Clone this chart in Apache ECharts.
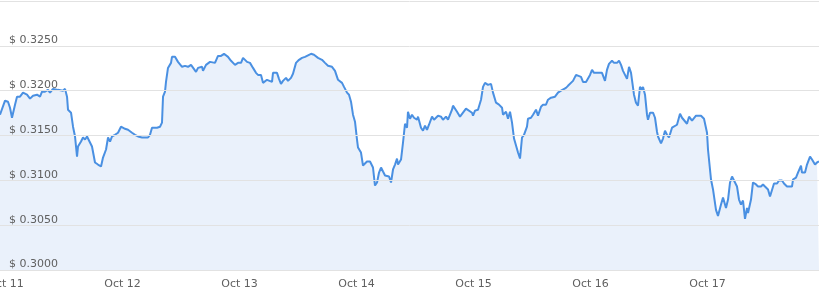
<!DOCTYPE html>
<html>
<head>
<meta charset="utf-8">
<script src="https://cdn.jsdelivr.net/npm/echarts@6/dist/echarts.min.js"></script>
<style>
html,body{margin:0;padding:0;background:#fff;}
#chart{width:819px;height:305px;}
</style>
</head>
<body>
<div id="chart"></div>
<script>
// hours since Oct 11 00:00
const hours = [
-1.13,-0.10,0.51,0.92,1.33,1.95,2.36,2.97,3.59,4.41,
5.03,5.64,6.46,7.08,7.49,8.10,8.72,9.13,9.74,10.77,
11.79,12.21,12.62,12.82,13.44,13.85,14.26,14.67,14.87,15.49,
15.90,16.31,16.72,17.13,17.74,17.95,18.36,18.97,19.59,20.00,
20.21,20.62,21.03,21.44,21.85,22.46,23.08,23.69,24.51,25.13,
25.95,26.56,27.18,27.59,28.00,28.62,29.23,29.64,30.05,30.46,
31.08,31.69,32.10,32.31,32.72,32.92,33.33,33.95,34.15,34.77,
35.38,35.79,36.21,36.82,37.44,38.05,38.46,39.08,39.49,40.31,
40.51,41.13,41.54,41.95,42.36,42.97,43.59,44.21,44.82,45.64,
46.26,47.08,47.69,48.31,48.72,49.54,50.15,50.77,51.38,51.79,
52.41,52.82,53.64,54.05,54.67,54.87,55.69,56.10,56.51,56.92,
57.54,57.95,58.56,58.97,59.59,60.21,60.82,61.44,61.85,62.67,
63.28,64.10,64.92,65.54,66.15,66.97,67.59,68.21,69.03,69.44,
70.05,70.46,70.87,71.28,71.69,72.10,72.31,72.92,73.33,73.74,
74.15,74.77,75.18,75.38,75.79,76.21,76.62,77.03,77.44,77.85,
78.26,78.67,79.08,79.49,79.90,80.31,80.51,81.13,81.54,81.95,
82.36,82.56,82.97,83.38,83.79,84.41,84.62,85.23,85.64,86.05,
86.46,86.87,87.49,87.90,88.72,89.33,89.74,90.36,90.77,91.59,
91.79,92.62,93.23,93.64,94.46,94.87,95.69,95.90,96.31,96.92,
97.54,97.95,98.36,98.97,99.59,100.00,100.62,101.23,101.85,102.05,
102.67,103.08,103.49,103.90,104.31,104.72,105.13,105.54,105.95,106.36,
106.97,107.18,107.79,108.21,108.82,109.23,109.85,110.26,110.87,111.28,
111.90,112.31,112.72,113.33,113.95,114.36,114.97,115.38,115.79,116.41,
117.03,117.44,118.05,118.46,119.08,119.49,119.90,120.31,120.72,121.33,
121.74,122.36,122.56,122.97,123.38,123.79,124.41,124.82,125.44,125.85,
126.26,126.67,127.08,127.49,127.69,127.90,128.31,128.72,128.92,129.33,
129.74,130.15,130.56,130.77,131.18,131.59,131.79,132.21,132.82,133.23,
133.64,133.85,134.46,134.87,135.28,135.69,136.10,136.72,137.13,137.74,
138.36,138.77,139.18,139.79,140.21,140.82,141.03,141.64,142.05,142.67,
143.28,143.90,144.10,144.72,145.13,145.74,146.15,146.77,147.18,147.79,
148.21,148.62,149.03,149.44,150.05,150.46,150.87,151.28,151.69,152.10,
152.31,152.92,153.33,153.95,154.36,154.97,155.38,155.79,156.41,156.82,
157.23,157.64,158.26,158.67,159.28,159.69,160.31,160.72,161.33,161.54,
162.15,162.56,162.97,163.18,163.38,164.00,164.41,165.03,165.44,166.05,
166.46,166.87
];
const prices = [
0.31732,0.31888,0.31877,0.31810,0.31698,0.31844,0.31933,0.31933,0.31978,0.31955,
0.31911,0.31944,0.31955,0.31933,0.31989,0.31989,0.32009,0.31978,0.32020,0.32009,
0.32000,0.32020,0.31933,0.31788,0.31754,0.31598,0.31489,0.31265,0.31377,0.31433,
0.31478,0.31455,0.31489,0.31478,0.31377,0.31366,0.31199,0.31176,0.31154,0.31254,
0.31232,0.31344,0.31478,0.31433,0.31489,0.31508,0.31531,0.31598,0.31575,0.31564,
0.31531,0.31508,0.31489,0.31500,0.31478,0.31478,0.31478,0.31508,0.31587,0.31609,
0.31587,0.31598,0.31643,0.31933,0.31989,0.32098,0.32254,0.32310,0.32377,0.32377,
0.32321,0.32310,0.32266,0.32277,0.32266,0.32288,0.32266,0.32210,0.32254,0.32266,
0.32221,0.32288,0.32288,0.32321,0.32299,0.32310,0.32388,0.32388,0.32411,0.32377,
0.32333,0.32288,0.32310,0.32310,0.32366,0.32321,0.32310,0.32254,0.32199,0.32176,
0.32176,0.32087,0.32121,0.32143,0.32098,0.32199,0.32199,0.32132,0.32076,0.32109,
0.32143,0.32109,0.32143,0.32188,0.32310,0.32344,0.32366,0.32377,0.32377,0.32411,
0.32400,0.32366,0.32344,0.32310,0.32277,0.32266,0.32221,0.32121,0.32087,0.32042,
0.31978,0.31955,0.31877,0.31732,0.31654,0.31455,0.31366,0.31310,0.31165,0.31176,
0.31210,0.31210,0.31221,0.31143,0.30942,0.30976,0.31087,0.31143,0.31098,0.31054,
0.31054,0.31043,0.30976,0.31121,0.31176,0.31243,0.31176,0.31232,0.31422,0.31631,
0.31587,0.31765,0.31687,0.31732,0.31698,0.31676,0.31710,0.31587,0.31553,0.31609,
0.31564,0.31620,0.31710,0.31676,0.31721,0.31710,0.31676,0.31710,0.31676,0.31788,
0.31833,0.31765,0.31710,0.31732,0.31799,0.31777,0.31754,0.31721,0.31777,0.31788,
0.31899,0.32042,0.32087,0.32065,0.32076,0.31978,0.31866,0.31844,0.31810,0.31732,
0.31765,0.31687,0.31765,0.31643,0.31466,0.31455,0.31310,0.31243,0.31478,0.31508,
0.31598,0.31687,0.31698,0.31732,0.31788,0.31721,0.31821,0.31844,0.31844,0.31899,
0.31922,0.31944,0.31933,0.31978,0.32000,0.32020,0.32031,0.32054,0.32042,0.32109,
0.32176,0.32188,0.32154,0.32098,0.32098,0.32087,0.32176,0.32232,0.32199,0.32199,
0.32199,0.32199,0.32210,0.32109,0.32232,0.32299,0.32333,0.32310,0.32310,0.32333,
0.32288,0.32221,0.32199,0.32132,0.32154,0.32266,0.32199,0.32210,0.31955,0.31866,
0.31833,0.32042,0.32009,0.32042,0.31955,0.31732,0.31676,0.31754,0.31754,0.31698,
0.31542,0.31489,0.31411,0.31466,0.31553,0.31508,0.31478,0.31587,0.31575,0.31620,
0.31743,0.31698,0.31687,0.31631,0.31710,0.31665,0.31687,0.31721,0.31710,0.31721,
0.31687,0.31531,0.31344,0.31009,0.30898,0.30670,0.30603,0.30730,0.30808,0.30692,
0.30786,0.30976,0.31043,0.31043,0.30931,0.30786,0.30730,0.30775,0.30570,0.30692,
0.30636,0.30786,0.30976,0.30954,0.30931,0.30931,0.30954,0.30931,0.30898,0.30819,
0.30819,0.30965,0.30965,0.30998,0.30998,0.30965,0.30931,0.30920,0.30931,0.31009,
0.31031,0.31087,0.31076,0.31165,0.31087,0.31087,0.31176,0.31265,0.31232,0.31176,
0.31199,0.31210
];
const dayLabels = ['Oct 11','Oct 12','Oct 13','Oct 14','Oct 15','Oct 16','Oct 17'];
const dayTickHours = [0,24,48,72,96,120,144];
const priceTicks = [0.3000,0.3050,0.3100,0.3150,0.3200,0.3250];
const xRange = [-1.13, 166.87];
const yRange = [0.30, 0.33];

const seriesData = hours.map((h, i) => [h, prices[i]]);
const chart = echarts.init(document.getElementById('chart'), null, {renderer: 'canvas'});
chart.setOption({
  animation: false,
  backgroundColor: '#ffffff',
  textStyle: {fontFamily: 'DejaVu Sans'},
  grid: {left: 0, right: 0, top: 1, bottom: 35, containLabel: false, outerBoundsMode: 'none'},
  xAxis: {
    type: 'value',
    min: xRange[0],
    max: xRange[1],
    splitLine: {show: false},
    axisLine: {show: true, lineStyle: {color: '#dcdcdc', width: 1}},
    axisTick: {show: false},
    axisLabel: {
      customValues: dayTickHours,
      formatter: v => dayLabels[Math.round(v / 24)] || '',
      color: '#606060',
      fontSize: 11,
      fontFamily: 'DejaVu Sans',
      margin: 9,
      hideOverlap: false
    }
  },
  yAxis: {
    type: 'value',
    min: yRange[0],
    max: yRange[1],
    interval: 0.005,
    axisLine: {show: false},
    axisTick: {show: false},
    splitLine: {lineStyle: {color: '#e2e2e2', width: 1}},
    axisLabel: {
      inside: true,
      customValues: priceTicks,
      margin: 9,
      verticalAlign: 'bottom',
      hideOverlap: false,
      color: '#606060',
      fontSize: 11,
      fontFamily: 'DejaVu Sans',
      formatter: v => '$ ' + v.toFixed(4)
    },
    z: 10
  },
  series: [{
    type: 'line',
    data: seriesData,
    showSymbol: false,
    symbol: 'none',
    smooth: false,
    lineStyle: {color: '#4a90e2', width: 2},
    areaStyle: {color: '#eaf1fb', opacity: 1},
    z: 3
  }]
});
</script>
</body>
</html>
